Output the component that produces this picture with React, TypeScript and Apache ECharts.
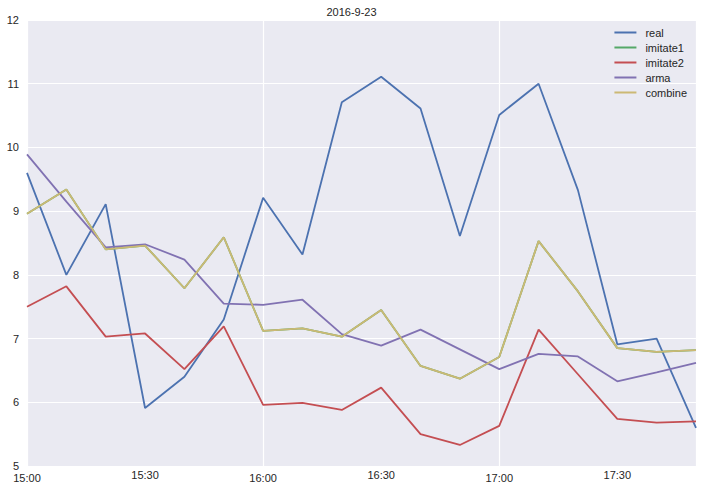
import React, { useEffect, useRef } from "react";
import * as echarts from "echarts";

const times = ["15:00", "15:10", "15:20", "15:30", "15:40", "15:50", "16:00", "16:10", "16:20", "16:30", "16:40", "16:50", "17:00", "17:10", "17:20", "17:30", "17:40", "17:50"];
const real = [9.6, 8.0, 9.11, 5.91, 6.4, 7.3, 9.21, 8.32, 10.71, 11.11, 10.61, 8.61, 10.51, 11.0, 9.33, 6.91, 7.0, 5.6];
const imitate1 = [8.96, 9.34, 8.4, 8.46, 7.79, 8.59, 7.12, 7.16, 7.03, 7.45, 6.57, 6.37, 6.71, 8.53, 7.74, 6.85, 6.79, 6.82];
const imitate2 = [7.5, 7.82, 7.03, 7.08, 6.52, 7.19, 5.96, 5.99, 5.88, 6.23, 5.5, 5.33, 5.63, 7.14, 6.44, 5.74, 5.68, 5.7];
const arma = [9.89, 9.15, 8.43, 8.48, 8.24, 7.55, 7.53, 7.61, 7.07, 6.89, 7.14, 6.83, 6.52, 6.76, 6.72, 6.33, 6.47, 6.62];
const combine = [8.96, 9.34, 8.4, 8.46, 7.79, 8.59, 7.12, 7.16, 7.03, 7.45, 6.57, 6.37, 6.71, 8.53, 7.74, 6.85, 6.79, 6.82];
const majorTicks = ["15:00", "16:00", "17:00"];
const minorTicks = ["15:30", "16:30", "17:30"];

const seriesNames = ["real", "imitate1", "imitate2", "arma", "combine"];
const seriesColors = ["#4C72B0", "#55A868", "#C44E52", "#8172B2", "#CCB974"];

const toMin = (t: string) => {
  const [h, m] = t.split(":").map(Number);
  return (h - 15) * 60 + m;
};
const fromMin = (v: number) => {
  const h = 15 + Math.floor(v / 60);
  const m = v % 60;
  return `${h}:${m < 10 ? "0" + m : m}`;
};

export default function App() {
  const ref = useRef<HTMLDivElement>(null);
  useEffect(() => {
    if (!ref.current) return;
    const chart = echarts.init(ref.current, undefined, { renderer: "svg" });
    const allData = [real, imitate1, imitate2, arma, combine];
    const font = "Liberation Sans, Arial, sans-serif";
    const xMax = toMin(times[times.length - 1]);
    chart.setOption({
      animation: false,
      textStyle: { fontFamily: font },
      title: {
        text: "2016-9-23",
        left: "center",
        top: 1,
        textStyle: { fontSize: 11, fontWeight: "normal", color: "#262626", fontFamily: font },
      },
      legend: {
        orient: "vertical",
        right: 11,
        top: 22,
        itemWidth: 22,
        itemHeight: 2,
        itemGap: 4,
        icon: "rect",
        data: seriesNames,
        textStyle: { fontSize: 11, color: "#262626", fontFamily: font, padding: [0, 0, 0, 4] },
      },
      grid: {
        left: 27,
        right: 7,
        top: 20,
        bottom: 24,
        show: true,
        backgroundColor: "#EAEAF2",
        borderWidth: 0,
      },
      xAxis: [
        {
          type: "value",
          min: 0,
          max: xMax,
          interval: 60,
          position: "bottom",
          axisLine: { show: false },
          axisTick: { show: false },
          splitLine: { show: true, lineStyle: { color: "#FFFFFF", width: 1.2 } },
          axisLabel: {
            fontSize: 11,
            color: "#262626",
            fontFamily: font,
            margin: 6,
            showMaxLabel: false,
            formatter: (v: number) => {
              const s = fromMin(v);
              return majorTicks.includes(s) ? s : "";
            },
          },
        },
        {
          type: "value",
          min: 0,
          max: xMax,
          interval: 30,
          position: "bottom",
          offset: 0,
          axisLine: { show: false },
          axisTick: { show: false },
          splitLine: { show: false },
          axisLabel: {
            fontSize: 11,
            color: "#262626",
            fontFamily: font,
            margin: 3,
            showMaxLabel: false,
            formatter: (v: number) => {
              const s = fromMin(v);
              return minorTicks.includes(s) ? s : "";
            },
          },
        },
      ],
      yAxis: {
        type: "value",
        min: 5,
        max: 12,
        interval: 1,
        axisLine: { show: false },
        axisTick: { show: false },
        splitLine: { show: true, lineStyle: { color: "#FFFFFF", width: 1.2 } },
        axisLabel: { fontSize: 11, color: "#262626", fontFamily: font, margin: 8 },
      },
      series: seriesNames.map((name, i) => ({
        name,
        type: "line",
        xAxisIndex: 0,
        data: allData[i].map((v, j) => [toMin(times[j]), v]),
        showSymbol: false,
        symbol: "none",
        color: seriesColors[i],
        lineStyle: { width: 1.8, color: seriesColors[i] },
        itemStyle: { color: seriesColors[i] },
        clip: true,
      })),
    });
    return () => chart.dispose();
  }, []);
  return <div ref={ref} style={{ width: 703, height: 490, position: "absolute", left: 0, top: 0 }} />;
}
